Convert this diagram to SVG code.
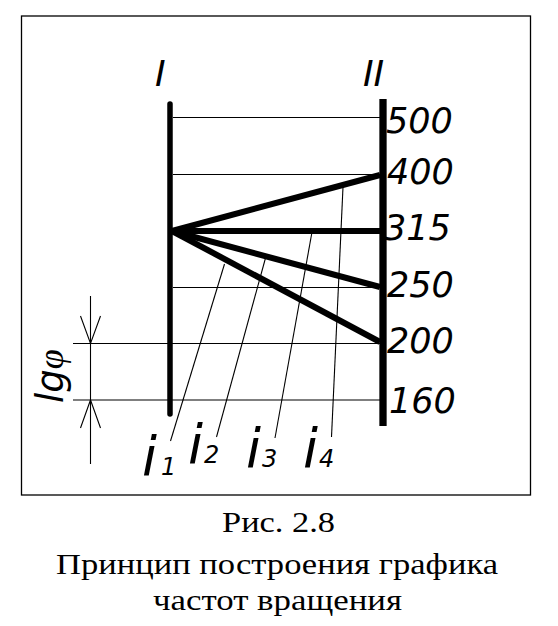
<svg xmlns="http://www.w3.org/2000/svg" width="558" height="626" viewBox="0 0 558 626">
<style>
.thin{stroke:#000;stroke-width:1.1;fill:none}
.thick{stroke:#000;stroke-width:6;fill:none}
.lab{font-family:"DejaVu Sans",sans-serif;font-style:oblique;fill:#000}
.cap{font-family:"Liberation Serif",serif;font-size:29px;fill:#000}
</style>
<rect x="21.5" y="16" width="509" height="479" fill="#fff" stroke="#000" stroke-width="1.3"/>
<g id="connectors">
<line class="thin" x1="173" y1="117.5" x2="380" y2="117.5"/>
<line class="thin" x1="173" y1="174.5" x2="380" y2="174.5"/>
<line class="thin" x1="173" y1="287.5" x2="380" y2="287.5"/>
<line class="thin" x1="73" y1="343.5" x2="380" y2="343.5"/>
<line class="thin" x1="73" y1="400" x2="380" y2="400"/>
<line class="thick" x1="172" y1="231" x2="380" y2="175"/>
<line class="thick" x1="172" y1="231" x2="380" y2="231"/>
<line class="thick" x1="172" y1="231" x2="380" y2="287"/>
<line class="thick" x1="172" y1="231" x2="380" y2="342"/>
<line class="thin" x1="224.5" y1="264" x2="170.5" y2="441"/>
<line class="thin" x1="265.5" y1="258" x2="216.5" y2="437"/>
<line class="thin" x1="312" y1="232" x2="275" y2="438"/>
<line class="thin" x1="343" y1="187" x2="331.5" y2="437"/>
<line class="thin" x1="90.5" y1="296" x2="90.5" y2="464"/>
<polyline class="thin" points="80.5,316 90.5,343.5 100.5,316"/>
<polyline class="thin" points="80.5,428 90.5,400 100.5,428"/>
</g>
<g id="axis-I">
<line x1="170" y1="104" x2="170" y2="414" stroke="#000" stroke-width="5.5" stroke-linecap="round"/>
<text class="lab" x="155" y="86" font-size="36">I</text>
</g>
<g id="axis-II">
<line x1="383" y1="99" x2="383" y2="426" stroke="#000" stroke-width="7.3"/>
<text class="lab" x="363" y="86" font-size="36">II</text>
</g>
<g id="scale-labels" class="lab" font-size="35">
<text x="386" y="133">500</text>
<text x="387" y="184">400</text>
<text x="384" y="240">315</text>
<text x="387" y="297">250</text>
<text x="387" y="353">200</text>
<text x="389" y="413">160</text>
</g>
<g id="ratio-labels" class="lab">
<text x="142" y="475" font-size="54">i<tspan font-size="24" dx="4">1</tspan></text>
<text x="188" y="463" font-size="54">i<tspan font-size="24" dx="1">2</tspan></text>
<text x="246" y="467" font-size="54">i<tspan font-size="24" dx="1">3</tspan></text>
<text x="303" y="467" font-size="54">i<tspan font-size="24" dx="1">4</tspan></text>
</g>
<g id="dimension-label">
<text class="lab" font-size="37" transform="translate(63,403) rotate(-90)">lg<tspan font-family="Liberation Serif,serif" font-style="italic" font-size="36">φ</tspan></text>
</g>
<g id="caption">
<text class="cap" x="222" y="532" textLength="113" lengthAdjust="spacingAndGlyphs">Рис. 2.8</text>
<text class="cap" x="56" y="574" textLength="442" lengthAdjust="spacingAndGlyphs">Принцип построения графика</text>
<text class="cap" x="153" y="610" textLength="249" lengthAdjust="spacingAndGlyphs">частот вращения</text>
</g>
</svg>
